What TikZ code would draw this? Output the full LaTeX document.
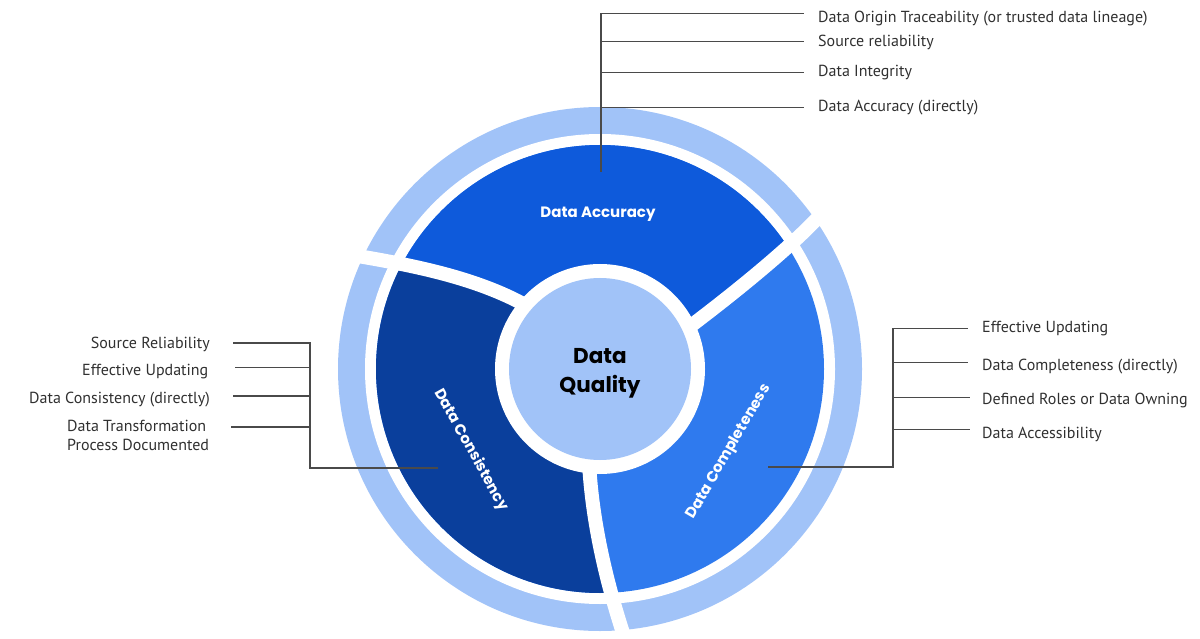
\documentclass[tikz,border=0pt]{standalone}
\usepackage{fontspec}
\setmainfont{PT Sans}
\newfontfamily\popfont{Poppins}
\definecolor{ringc}{HTML}{A1C3F8}
\definecolor{accc}{HTML}{0E5ADB}
\definecolor{conc}{HTML}{0A3F9C}
\definecolor{comc}{HTML}{2F7AEE}
\definecolor{leadc}{HTML}{4A4A4A}
\definecolor{txtc}{HTML}{303030}
\tikzset{
  lead/.style={draw=leadc, line width=1.4pt},
  lbl/.style={inner sep=0pt, text=txtc, font=\fontsize{16}{19}\selectfont},
  seglbl/.style={inner sep=0pt, text=white, font=\popfont\bfseries\fontsize{15}{18}\selectfont},
  cenlbl/.style={inner sep=0pt, text=black, font=\popfont\bfseries\fontsize{21.5}{26}\selectfont},
  sepline/.style={draw=white, line width=14pt},
}
\begin{document}
\begin{tikzpicture}[x=1pt,y=-1pt]
\useasboundingbox (0,0) rectangle (1200,639);
\coordinate (C) at (600,369);
% separator control points
\coordinate (s1a) at (527,306); \coordinate (s1b) at (475,277);
\coordinate (s1c) at (411,265); \coordinate (s1d) at (352,255);
\coordinate (s2a) at (684,331); \coordinate (s2b) at (724,301);
\coordinate (s2c) at (792,247.5); \coordinate (s2d) at (825,210);
\coordinate (s3a) at (589,462); \coordinate (s3b) at (592,522);
\coordinate (s3c) at (606.8,585); \coordinate (s3d) at (626,642);
% outer ring
\fill[ringc] (C) circle[radius=262pt];
\fill[white] (C) circle[radius=235pt];
% segments
\begin{scope}
  \clip (C) circle[radius=224pt];
  \fill[comc] (C) circle[radius=230pt];
  \fill[accc] (s2a) .. controls (s2b) and (s2c) .. (s2d) -- (928,140) -- (800,-50) -- (400,-50) -- (237,202) -- (s1d) .. controls (s1c) and (s1b) .. (s1a) -- cycle;
  \fill[conc] (s1a) .. controls (s1b) and (s1c) .. (s1d) -- (237,202) -- (130,500) -- (400,800) -- (638,767) -- (s3d) .. controls (s3c) and (s3b) .. (s3a) -- cycle;
\end{scope}
\fill[white] (C) circle[radius=105pt];
% separators
\draw[sepline] (s1a) .. controls (s1b) and (s1c) .. (s1d);
\draw[sepline] (s2a) .. controls (s2b) and (s2c) .. (s2d);
\draw[sepline] (s3a) .. controls (s3b) and (s3c) .. (s3d);
% centre disc
\fill[ringc] (C) circle[radius=91pt];
\node[cenlbl, anchor=base] (dq1) at (600,363) {Data};
\node[cenlbl, anchor=base] (dq2) at (600,392) {Quality};
% segment labels
\node[seglbl, anchor=base] (acc) at (598,218) {Data Accuracy};
\node[seglbl, rotate=-61] (con) at (471,450) {Data Consistency};
\node[seglbl, rotate=60] (com) at (729,452) {Data Completeness};
% top leaders
\coordinate (tA) at (601,172);
\coordinate (tT) at (601,13.5);
\coordinate (t1e) at (804,13.5);
\coordinate (t2e) at (804,41.7);
\coordinate (t3e) at (804,72.7);
\coordinate (t4e) at (804,107.3);
\node[lbl, anchor=base west] (t1) at (818,22.5) {Data Origin Traceability (or trusted data lineage)};
\node[lbl, anchor=base west] (t2) at (818,46.5) {Source reliability};
\node[lbl, anchor=base west] (t3) at (818,76.5) {Data Integrity};
\node[lbl, anchor=base west] (t4) at (818,111.5) {Data Accuracy (directly)};
\draw[lead] (tA) -- (tT) -- (t1e);
\draw[lead] (t2e -| tT) -- (t2e);
\draw[lead] (t3e -| tT) -- (t3e);
\draw[lead] (t4e -| tT) -- (t4e);
% left leaders
\coordinate (lC) at (438,468);
\coordinate (lV) at (310,468);
\coordinate (l1e) at (233,343);
\coordinate (l2e) at (235,367.7);
\coordinate (l3e) at (233,396);
\coordinate (l4e) at (231,427);
\node[lbl, anchor=base east] (l1) at (210,348) {Source Reliability};
\node[lbl, anchor=base east] (l2) at (208.5,375) {Effective Updating};
\node[lbl, anchor=base east] (l3) at (210,403) {Data Consistency (directly)};
\node[lbl, anchor=base west] (l4) at (67,431.7) {Data Transformation};
\node[lbl, anchor=base west] (l5) at (67,450.7) {Process Documented};
\draw[lead] (lC) -- (lV) |- (l1e);
\draw[lead] (l2e) -- (l2e -| lV);
\draw[lead] (l3e) -- (l3e -| lV);
\draw[lead] (l4e) -- (l4e -| lV);
% right leaders
\coordinate (rC) at (768,467);
\coordinate (rV) at (893,467);
\coordinate (r1e) at (968,328.3);
\coordinate (r2e) at (968,362.7);
\coordinate (r3e) at (970,397.3);
\coordinate (r4e) at (970,429.3);
\node[lbl, anchor=base west] (r1) at (982,332.7) {Effective Updating};
\node[lbl, anchor=base west] (r2) at (982,370.7) {Data Completeness (directly)};
\node[lbl, anchor=base west] (r3) at (982,404) {Defined Roles or Data Owning};
\node[lbl, anchor=base west] (r4) at (982,438.3) {Data Accessibility};
\draw[lead] (rC) -- (rV) |- (r1e);
\draw[lead] (r2e -| rV) -- (r2e);
\draw[lead] (r3e -| rV) -- (r3e);
\draw[lead] (r4e -| rV) -- (r4e);
\end{tikzpicture}
\end{document}
